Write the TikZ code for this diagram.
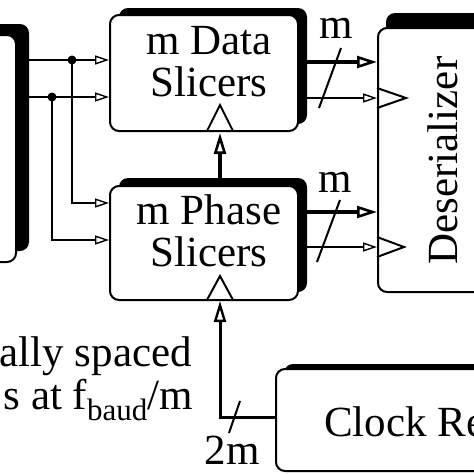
\documentclass[tikz,border=0pt]{standalone}
\usepackage{fontspec}
\setmainfont{Liberation Serif}
\usetikzlibrary{arrows.meta,shadows,positioning,calc}

\newcommand{\lowsub}[1]{\raisebox{-11pt}{\fontsize{31}{31}\selectfont #1}}

\tikzset{
  blk/.style={draw, line width=2pt, rounded corners=9pt, fill=white, inner sep=0pt},
  shd/.style 2 args={drop shadow={shadow xshift=#1, shadow yshift=#2, fill=black, opacity=1}},
  lbl/.style={inner sep=0pt, font=\fontsize{43}{42}\selectfont},
  sig/.style={line width=2pt, -{Triangle[open, length=14pt, width=9pt, line width=1.4pt]}},
  bus/.style={line width=4pt, -{Triangle[open, length=20pt, width=12pt, line width=2.6pt]}},
  clkin/.style={line width=3.5pt, -{Triangle[open, length=21pt, width=12pt, line width=2.6pt]}},
  tick/.style={line width=2pt},
  clk/.style={line width=2pt, line join=miter},
}

\begin{document}
\begin{tikzpicture}[x=1pt,y=-1pt]
  \useasboundingbox (0,0) rectangle (474,474);
%%
  % Node: samp
  \node[blk, shd={13pt}{11pt}, minimum width=116pt, minimum height=227pt] (samp) at (-42,148.5) {};
  % Node: data
  \node[blk, shd={9pt}{7pt}, minimum width=188pt, minimum height=116pt] (data) at (204,73) {};
  \node[lbl, align=center] (datatxt) at (209,62) {m Data\\Slicers};
  % Node: phase
  \node[blk, shd={9pt}{8pt}, minimum width=188pt, minimum height=114pt] (phase) at (204,243) {};
  \node[lbl, align=center] (phasetxt) at (209,231) {m Phase\\Slicers};
  % Node: deser
  \node[blk, shd={8pt}{15pt}, minimum width=182pt, minimum height=264pt] (deser) at (469,160) {};
  \node[lbl, rotate=90] (desertxt) at (442.5,160.5) {Deserializer};
  % Node: clock
  \node[blk, shd={8pt}{5pt}, minimum width=324pt, minimum height=102pt] (clock) at (438,420) {};
  \node[lbl, anchor=base west] (clocktxt) at (324,436) {Clock Re};
  % Node: phases note
  \node[lbl, anchor=base east] (note1) at (192,366) {ally spaced};
  \node[lbl, anchor=base east] (note2) at (193,409) {s at f\lowsub{baud}/m};
%
  \coordinate (j1) at (72,60);
  \coordinate (j2) at (52,97);
  \coordinate (dclk) at (220,133);
  \coordinate (pclk) at (220,301);
  % Edge: samp -> data
  \draw[sig] (samp.east |- j1) -- (data.west |- j1);
  \draw[sig] (samp.east |- j2) -- (data.west |- j2);
  % Edge: samp -> phase
  \draw[sig] (j1) |- (phase.west |- 0,203);
  \draw[sig] (j2) |- (phase.west |- 0,240);
  \fill (j1) circle (4.5pt);
  \fill (j2) circle (4.5pt);
  % Edge: phase -> data
  \draw[clkin] (pclk |- phase.north) -- (dclk);
  \draw[clk] (207,131) -- (220,105) -- (233,131);
  % Edge: clock -> phase
  \draw[line width=3pt, -{Triangle[open, length=21pt, width=12pt, line width=2.4pt]}] (clock.west |- 0,417) -| (pclk);
  \draw[clk] (207,300) -- (220,276) -- (233,300);
  \draw[tick] (229,433) -- (240,401);
  \node[lbl, anchor=base] (twom) at (232,464) {2m};
  % Edge: data -> deser
  \draw[bus] (data.east |- 0,62) -- (deser.west |- 0,62);
  \draw[sig] (data.east |- 0,98) -- (deser.west |- 0,98);
  \draw[tick] (319,108) -- (341,48);
  \node[lbl, anchor=base] (mdata) at (336,38) {m};
  \draw[clk] (deser.west |- 0,88) -- (406,98) -- (deser.west |- 0,108);
  % Edge: phase -> deser
  \draw[bus] (phase.east |- 0,212) -- (deser.west |- 0,212);
  \draw[sig] (phase.east |- 0,247) -- (deser.west |- 0,247);
  \draw[tick] (317,262) -- (340,200);
  \node[lbl, anchor=base] (mphase) at (335,192) {m};
  \draw[clk] (deser.west |- 0,237) -- (404,247) -- (deser.west |- 0,257);
%
\end{tikzpicture}
\end{document}
